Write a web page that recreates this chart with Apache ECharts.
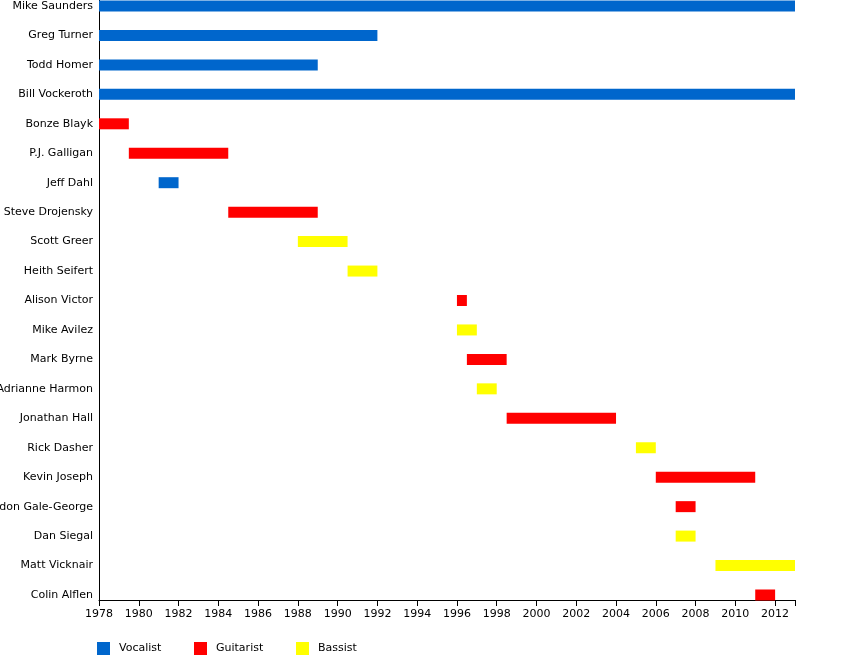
<!DOCTYPE html>
<html>
<head>
<meta charset="utf-8">
<style>
  html, body { margin: 0; padding: 0; background: #fff; }
  #chart { width: 843px; height: 660px; }
</style>
<script src="https://cdn.jsdelivr.net/npm/echarts@6/dist/echarts.min.js"></script>
</head>
<body>
<div id="chart"></div>
<script>
// band members, top to bottom
const members = [
  'Mike Saunders', 'Greg Turner', 'Todd Homer', 'Bill Vockeroth', 'Bonze Blayk',
  'P.J. Galligan', 'Jeff Dahl', 'Steve Drojensky', 'Scott Greer', 'Heith Seifert',
  'Alison Victor', 'Mike Avilez', 'Mark Byrne', 'Adrianne Harmon', 'Jonathan Hall',
  'Rick Dasher', 'Kevin Joseph', 'Brandon Gale-George', 'Dan Siegal', 'Matt Vicknair',
  'Colin Alflen'
]
const roles = [
  'Vocalist', 'Vocalist', 'Vocalist', 'Vocalist', 'Guitarist',
  'Guitarist', 'Vocalist', 'Guitarist', 'Bassist', 'Bassist',
  'Guitarist', 'Bassist', 'Guitarist', 'Bassist', 'Guitarist',
  'Bassist', 'Guitarist', 'Guitarist', 'Bassist', 'Bassist',
  'Guitarist'
]
const startYears = [
  1978, 1978, 1978, 1978, 1978,
  1979.5, 1981, 1984.5, 1988, 1990.5,
  1996, 1996, 1996.5, 1997, 1998.5,
  2005, 2006, 2007, 2007, 2009,
  2011
]
const endYears = [
  2013, 1992, 1989, 2013, 1979.5,
  1984.5, 1982, 1989, 1990.5, 1992,
  1996.5, 1997, 1998.5, 1998, 2004,
  2006, 2011, 2008, 2008, 2013,
  2012
]
const roleNames = ['Vocalist', 'Guitarist', 'Bassist']
const roleColors = ['#0066cc', '#ff0000', '#ffff00']
const yearTicks = [1978, 1980, 1982, 1984, 1986, 1988, 1990, 1992, 1994, 1996, 1998,
  2000, 2002, 2004, 2006, 2008, 2010, 2012]

const chart = echarts.init(document.getElementById('chart'))
const font = 'DejaVu Sans'

const series = roleNames.map((role, r) => {
  const data = []
  members.forEach((m, i) => {
    if (roles[i] === role) data.push([startYears[i], endYears[i], i])
  })
  return {
    name: role,
    type: 'custom',
    itemStyle: { color: roleColors[r] },
    encode: { x: [0, 1], y: 2 },
    renderItem (params, api) {
      const s = api.coord([api.value(0), api.value(2)])
      const e = api.coord([api.value(1), api.value(2)])
      const h = 11
      return {
        type: 'rect',
        shape: { x: s[0], y: s[1] - h / 2, width: e[0] - s[0], height: h },
        style: api.style()
      }
    },
    data: data
  }
})

const legendLefts = [97, 194, 296]

const option = {
  animation: false,
  backgroundColor: '#fff',
  grid: { left: 99, right: 48, top: 0, bottom: 60, containLabel: false, outerBoundsMode: 'none' },
  legend: roleNames.map((role, r) => ({
    data: [role],
    left: legendLefts[r],
    top: 642,
    padding: 0,
    icon: 'rect',
    itemWidth: 13,
    itemHeight: 13,
    selectedMode: false,
    textStyle: { fontFamily: font, fontSize: 11, color: '#000', padding: [0, 0, 0, 4] }
  })),
  xAxis: {
    type: 'value',
    position: 'bottom',
    min: 1978,
    max: 2013,
    interval: 2,
    splitLine: { show: false },
    axisLine: { show: true, onZero: false, lineStyle: { color: '#000', width: 1 } },
    axisTick: { show: true, length: 6, lineStyle: { color: '#000', width: 1 } },
    axisLabel: {
      customValues: yearTicks,
      formatter: v => String(v),
      margin: 9,
      fontFamily: font,
      fontSize: 11,
      color: '#000'
    }
  },
  yAxis: {
    type: 'value',
    inverse: true,
    min: -0.204,
    max: 20.17,
    splitLine: { show: false },
    axisLine: { show: true, onZero: false, lineStyle: { color: '#000', width: 1 } },
    axisTick: { show: false },
    axisLabel: {
      customValues: members.map((m, i) => i),
      formatter: v => members[Math.round(v)],
      margin: 6,
      fontFamily: font,
      fontSize: 11,
      color: '#000'
    }
  },
  series: series
}
chart.setOption(option)
</script>
</body>
</html>
